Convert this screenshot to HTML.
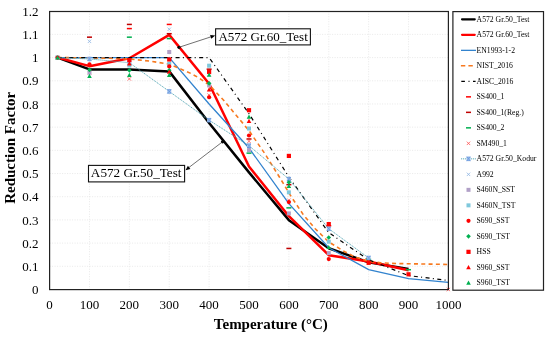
<!DOCTYPE html><html><head><meta charset="utf-8"><style>html,body{margin:0;padding:0;background:#fff;}svg{display:block;}text{font-family:"Liberation Serif","Times New Roman",serif;}</style></head><body>
<svg width="550" height="338" viewBox="0 0 550 338">
<rect width="550" height="338" fill="#fff"/>
<path d="M89.48,11.2V289.5M129.36,11.2V289.5M169.24,11.2V289.5M209.12,11.2V289.5M249.00,11.2V289.5M288.88,11.2V289.5M328.76,11.2V289.5M368.64,11.2V289.5M408.52,11.2V289.5M49.6,266.31H448.4M49.6,243.12H448.4M49.6,219.92H448.4M49.6,196.73H448.4M49.6,173.54H448.4M49.6,150.35H448.4M49.6,127.16H448.4M49.6,103.97H448.4M49.6,80.77H448.4M49.6,57.58H448.4M49.6,34.39H448.4" stroke="#E3E3E3" stroke-width="0.8" stroke-dasharray="1,1.5" fill="none"/>
<polyline points="57.58,57.58 89.48,69.41 129.36,69.41 169.24,71.38 209.12,122.98 249.00,172.38 288.88,220.16 328.76,248.22 368.64,262.37 408.52,269.09" fill="none" stroke="#000" stroke-width="2.5" stroke-linejoin="round"/>
<polyline points="57.58,57.58 89.48,66.16 129.36,58.28 169.24,34.86 209.12,83.79 249.00,166.58 288.88,216.21 328.76,255.18 368.64,261.44 408.52,270.25" fill="none" stroke="#FF0000" stroke-width="2.5" stroke-linejoin="round"/>
<polyline points="57.58,57.58 89.48,57.58 129.36,57.58 169.24,57.58 209.12,103.97 249.00,148.03 288.88,203.69 328.76,247.75 368.64,269.56 408.52,278.60 448.40,282.31" fill="none" stroke="#3283CE" stroke-width="1.3"/>
<polyline points="57.58,57.58 89.48,57.82 109.42,58.28 129.36,58.97 149.30,61.06 169.24,64.08 181.20,69.18 191.17,73.59 199.15,77.99 209.12,84.95 223.88,100.49 235.44,114.40 249.00,130.64 264.95,153.83 279.71,177.48 291.27,196.73 303.24,214.59 315.20,228.74 328.76,241.96 344.71,251.70 355.08,257.03 368.64,261.21 380.60,262.83 396.56,263.53 448.40,264.45" fill="none" stroke="#F7791F" stroke-width="1.6" stroke-dasharray="4,3.3"/>
<polyline points="57.58,57.58 89.48,57.58 129.36,57.58 169.24,57.58 209.12,57.58 249.00,113.71 288.88,177.02 328.76,232.68 368.64,259.81 408.52,275.58 448.40,280.46" fill="none" stroke="#000" stroke-width="1.2" stroke-dasharray="4,3.3,1,3.5"/>
<rect x="126.86" y="27.84" width="5" height="1.5" fill="#FF0000"/>
<rect x="166.74" y="23.67" width="5" height="1.5" fill="#FF0000"/>
<rect x="326.26" y="224.97" width="5" height="1.5" fill="#FF0000"/>
<rect x="86.98" y="36.42" width="5" height="1.5" fill="#C00000"/>
<rect x="126.86" y="23.67" width="5" height="1.5" fill="#C00000"/>
<rect x="166.74" y="32.95" width="5" height="1.5" fill="#C00000"/>
<rect x="206.62" y="68.43" width="5" height="1.5" fill="#C00000"/>
<rect x="246.50" y="138.24" width="5" height="1.5" fill="#C00000"/>
<rect x="286.38" y="183.92" width="5" height="1.5" fill="#C00000"/>
<rect x="286.38" y="247.70" width="5" height="1.5" fill="#C00000"/>
<rect x="126.86" y="36.42" width="5" height="1.5" fill="#00B050"/>
<rect x="166.74" y="37.82" width="5" height="1.5" fill="#00B050"/>
<rect x="246.50" y="152.38" width="5" height="1.5" fill="#00B050"/>
<rect x="286.38" y="207.12" width="5" height="1.5" fill="#00B050"/>
<rect x="366.14" y="258.60" width="5" height="1.5" fill="#00B050"/>
<rect x="406.02" y="268.97" width="5" height="1.5" fill="#00B050"/>
<path d="M87.78,70.96L91.18,74.36M87.78,74.36L91.18,70.96" stroke="#FF5050" stroke-width="0.8"/>
<path d="M127.66,77.22L131.06,80.62M127.66,80.62L131.06,77.22" stroke="#FF5050" stroke-width="0.8"/>
<path d="M207.42,93.45L210.82,96.85M207.42,96.85L210.82,93.45" stroke="#FF5050" stroke-width="0.8"/>
<path d="M247.30,139.61L250.70,143.01M247.30,143.01L250.70,139.61" stroke="#FF5050" stroke-width="0.8"/>
<path d="M287.18,198.51L290.58,201.91M287.18,201.91L290.58,198.51" stroke="#FF5050" stroke-width="0.8"/>
<path d="M446.70,287.80L450.10,291.20M446.70,291.20L450.10,287.80" stroke="#FF5050" stroke-width="0.8"/>
<polyline points="57.58,57.58 89.48,58.97 129.36,62.69 169.24,91.44 209.12,120.20 249.00,145.71 288.88,179.11 328.76,228.74 368.64,257.96" fill="none" stroke="#48A0B0" stroke-width="0.9" stroke-dasharray="1.2,0.8"/>
<rect x="87.48" y="56.97" width="4" height="4" fill="#A9C6EE"/><path d="M87.48,57.17H91.48M87.48,60.77H91.48M87.68,57.17L91.28,60.77M87.68,60.77L91.28,57.17" stroke="#4F86D6" stroke-width="0.6" fill="none"/>
<rect x="127.36" y="60.69" width="4" height="4" fill="#A9C6EE"/><path d="M127.36,60.89H131.36M127.36,64.49H131.36M127.56,60.89L131.16,64.49M127.56,64.49L131.16,60.89" stroke="#4F86D6" stroke-width="0.6" fill="none"/>
<rect x="167.24" y="89.44" width="4" height="4" fill="#A9C6EE"/><path d="M167.24,89.64H171.24M167.24,93.24H171.24M167.44,89.64L171.04,93.24M167.44,93.24L171.04,89.64" stroke="#4F86D6" stroke-width="0.6" fill="none"/>
<rect x="207.12" y="118.20" width="4" height="4" fill="#A9C6EE"/><path d="M207.12,118.40H211.12M207.12,122.00H211.12M207.32,118.40L210.92,122.00M207.32,122.00L210.92,118.40" stroke="#4F86D6" stroke-width="0.6" fill="none"/>
<rect x="247.00" y="143.71" width="4" height="4" fill="#A9C6EE"/><path d="M247.00,143.91H251.00M247.00,147.51H251.00M247.20,143.91L250.80,147.51M247.20,147.51L250.80,143.91" stroke="#4F86D6" stroke-width="0.6" fill="none"/>
<rect x="286.88" y="177.11" width="4" height="4" fill="#A9C6EE"/><path d="M286.88,177.31H290.88M286.88,180.91H290.88M287.08,177.31L290.68,180.91M287.08,180.91L290.68,177.31" stroke="#4F86D6" stroke-width="0.6" fill="none"/>
<rect x="326.76" y="226.74" width="4" height="4" fill="#A9C6EE"/><path d="M326.76,226.94H330.76M326.76,230.54H330.76M326.96,226.94L330.56,230.54M326.96,230.54L330.56,226.94" stroke="#4F86D6" stroke-width="0.6" fill="none"/>
<rect x="366.64" y="255.96" width="4" height="4" fill="#A9C6EE"/><path d="M366.64,256.16H370.64M366.64,259.76H370.64M366.84,256.16L370.44,259.76M366.84,259.76L370.44,256.16" stroke="#4F86D6" stroke-width="0.6" fill="none"/>
<path d="M87.78,39.65L91.18,43.05M87.78,43.05L91.18,39.65" stroke="#8DB4E2" stroke-width="0.8"/>
<path d="M167.54,27.59L170.94,30.99M167.54,30.99L170.94,27.59" stroke="#8DB4E2" stroke-width="0.8"/>
<rect x="55.58" y="55.58" width="4" height="4" fill="#B1A0C7"/>
<rect x="87.48" y="70.66" width="4" height="4" fill="#B1A0C7"/>
<rect x="167.24" y="50.02" width="4" height="4" fill="#B1A0C7"/>
<rect x="207.12" y="83.41" width="4" height="4" fill="#B1A0C7"/>
<rect x="247.00" y="148.12" width="4" height="4" fill="#B1A0C7"/>
<rect x="286.88" y="211.43" width="4" height="4" fill="#B1A0C7"/>
<rect x="326.76" y="251.09" width="4" height="4" fill="#B1A0C7"/>
<rect x="55.58" y="55.58" width="4" height="4" fill="#7FC8DC"/>
<rect x="127.36" y="63.47" width="4" height="4" fill="#7FC8DC"/>
<rect x="167.24" y="61.85" width="4" height="4" fill="#7FC8DC"/>
<rect x="207.12" y="63.70" width="4" height="4" fill="#7FC8DC"/>
<rect x="247.00" y="126.55" width="4" height="4" fill="#7FC8DC"/>
<rect x="286.88" y="190.33" width="4" height="4" fill="#7FC8DC"/>
<rect x="326.76" y="239.73" width="4" height="4" fill="#7FC8DC"/>
<circle cx="57.58" cy="57.58" r="2.1" fill="#FF0000"/>
<circle cx="89.48" cy="64.31" r="2.1" fill="#FF0000"/>
<circle cx="169.24" cy="66.40" r="2.1" fill="#FF0000"/>
<circle cx="209.12" cy="97.24" r="2.1" fill="#FF0000"/>
<circle cx="249.00" cy="135.51" r="2.1" fill="#FF0000"/>
<circle cx="288.88" cy="202.07" r="2.1" fill="#FF0000"/>
<circle cx="328.76" cy="259.12" r="2.1" fill="#FF0000"/>
<path d="M89.48,67.57L91.78,69.87L89.48,72.17L87.18,69.87Z" fill="#00B050"/>
<path d="M129.36,68.04L131.66,70.34L129.36,72.64L127.06,70.34Z" fill="#00B050"/>
<path d="M169.24,68.04L171.54,70.34L169.24,72.64L166.94,70.34Z" fill="#00B050"/>
<path d="M209.12,81.03L211.42,83.33L209.12,85.63L206.82,83.33Z" fill="#00B050"/>
<path d="M288.88,180.05L291.18,182.35L288.88,184.65L286.58,182.35Z" fill="#00B050"/>
<path d="M328.76,235.25L331.06,237.55L328.76,239.85L326.46,237.55Z" fill="#00B050"/>
<rect x="127.26" y="58.03" width="4.2" height="4.2" fill="#FF0000"/>
<rect x="167.14" y="57.34" width="4.2" height="4.2" fill="#FF0000"/>
<rect x="207.02" y="69.86" width="4.2" height="4.2" fill="#FF0000"/>
<rect x="246.90" y="108.13" width="4.2" height="4.2" fill="#FF0000"/>
<rect x="286.78" y="153.82" width="4.2" height="4.2" fill="#FF0000"/>
<rect x="326.66" y="222.00" width="4.2" height="4.2" fill="#FF0000"/>
<rect x="366.54" y="260.73" width="4.2" height="4.2" fill="#FF0000"/>
<rect x="406.42" y="272.21" width="4.2" height="4.2" fill="#FF0000"/>
<path d="M129.36,61.21L131.66,65.41L127.06,65.41Z" fill="#FF0000"/>
<path d="M169.24,69.56L171.54,73.76L166.94,73.76Z" fill="#FF0000"/>
<path d="M209.12,87.19L211.42,91.39L206.82,91.39Z" fill="#FF0000"/>
<path d="M249.00,118.73L251.30,122.93L246.70,122.93Z" fill="#FF0000"/>
<path d="M57.58,55.18L59.88,59.38L55.28,59.38Z" fill="#00B050"/>
<path d="M89.48,73.74L91.78,77.94L87.18,77.94Z" fill="#00B050"/>
<path d="M129.36,72.81L131.66,77.01L127.06,77.01Z" fill="#00B050"/>
<path d="M169.24,72.81L171.54,77.01L166.94,77.01Z" fill="#00B050"/>
<path d="M209.12,72.58L211.42,76.78L206.82,76.78Z" fill="#00B050"/>
<path d="M249.00,114.55L251.30,118.75L246.70,118.75Z" fill="#00B050"/>
<path d="M288.88,183.90L291.18,188.10L286.58,188.10Z" fill="#00B050"/>
<path d="M328.76,244.89L331.06,249.09L326.46,249.09Z" fill="#00B050"/>
<rect x="49.6" y="11.5" width="398.8" height="278.1" fill="none" stroke="#222" stroke-width="1.2"/>
<text x="38.6" y="294.10" font-size="13" text-anchor="end">0</text>
<text x="38.6" y="270.91" font-size="13" text-anchor="end">0.1</text>
<text x="38.6" y="247.72" font-size="13" text-anchor="end">0.2</text>
<text x="38.6" y="224.52" font-size="13" text-anchor="end">0.3</text>
<text x="38.6" y="201.33" font-size="13" text-anchor="end">0.4</text>
<text x="38.6" y="178.14" font-size="13" text-anchor="end">0.5</text>
<text x="38.6" y="154.95" font-size="13" text-anchor="end">0.6</text>
<text x="38.6" y="131.76" font-size="13" text-anchor="end">0.7</text>
<text x="38.6" y="108.57" font-size="13" text-anchor="end">0.8</text>
<text x="38.6" y="85.37" font-size="13" text-anchor="end">0.9</text>
<text x="38.6" y="62.18" font-size="13" text-anchor="end">1</text>
<text x="38.6" y="38.99" font-size="13" text-anchor="end">1.1</text>
<text x="38.6" y="15.80" font-size="13" text-anchor="end">1.2</text>
<text x="49.60" y="308.6" font-size="13" text-anchor="middle">0</text>
<text x="89.48" y="308.6" font-size="13" text-anchor="middle">100</text>
<text x="129.36" y="308.6" font-size="13" text-anchor="middle">200</text>
<text x="169.24" y="308.6" font-size="13" text-anchor="middle">300</text>
<text x="209.12" y="308.6" font-size="13" text-anchor="middle">400</text>
<text x="249.00" y="308.6" font-size="13" text-anchor="middle">500</text>
<text x="288.88" y="308.6" font-size="13" text-anchor="middle">600</text>
<text x="328.76" y="308.6" font-size="13" text-anchor="middle">700</text>
<text x="368.64" y="308.6" font-size="13" text-anchor="middle">800</text>
<text x="408.52" y="308.6" font-size="13" text-anchor="middle">900</text>
<text x="448.40" y="308.6" font-size="13" text-anchor="middle">1000</text>
<text x="270.8" y="329.3" font-size="15" font-weight="bold" text-anchor="middle">Temperature (°C)</text>
<text transform="translate(14.7,147.8) rotate(-90)" font-size="15" font-weight="bold" text-anchor="middle">Reduction Factor</text>
<rect x="215.6" y="28.8" width="94.8" height="16.1" fill="#fff" stroke="#111" stroke-width="1.1"/>
<text x="263.1" y="41.2" font-size="13" text-anchor="middle">A572 Gr.60_Test</text>
<rect x="88.5" y="165.4" width="96.1" height="16.5" fill="#fff" stroke="#111" stroke-width="1.1"/>
<text x="136.2" y="176.6" font-size="13.2" text-anchor="middle">A572 Gr.50_Test</text>
<circle cx="179" cy="47.3" r="1.6" fill="#000"/>
<path d="M179,47.3L212,36.5" stroke="#333" stroke-width="0.7"/>
<path d="M215.2,35.5L210.1,35.1L211.3,38.7Z" fill="#000"/>
<circle cx="222.5" cy="141.8" r="1.6" fill="#000"/>
<path d="M222.5,141.8L188.5,167.8" stroke="#333" stroke-width="0.7"/>
<path d="M185.5,170.2L187.9,165.8L190.4,168.9Z" fill="#000"/>
<rect x="452.9" y="11.6" width="90.6" height="278.6" fill="#fff" stroke="#222" stroke-width="1.2"/>
<path d="M462,19.35H474.8" stroke="#000" stroke-width="2.1" stroke-linecap="round"/>
<text x="476.6" y="21.95" font-size="7.7">A572 Gr.50_Test</text>
<path d="M462,34.85H474.8" stroke="#FF0000" stroke-width="2.1" stroke-linecap="round"/>
<text x="476.6" y="37.45" font-size="7.7">A572 Gr.60_Test</text>
<path d="M461,50.35H476" stroke="#3283CE" stroke-width="1.3"/>
<text x="476.6" y="52.95" font-size="7.7">EN1993-1-2</text>
<path d="M460.9,65.85H473" stroke="#F7791F" stroke-width="1.5" stroke-dasharray="4.4,3.1"/>
<text x="476.6" y="68.45" font-size="7.7">NIST_2016</text>
<path d="M461.3,81.35H475.6" stroke="#000" stroke-width="1.3" stroke-dasharray="3.6,3.6,1,3.5"/>
<text x="476.6" y="83.95" font-size="7.7">AISC_2016</text>
<rect x="466.00" y="96.10" width="5" height="1.5" fill="#FF0000"/>
<text x="476.6" y="99.45" font-size="7.7">SS400_1</text>
<rect x="466.00" y="111.60" width="5" height="1.5" fill="#C00000"/>
<text x="476.6" y="114.95" font-size="7.7">SS400_1(Reg.)</text>
<rect x="466.00" y="127.10" width="5" height="1.5" fill="#00B050"/>
<text x="476.6" y="130.45" font-size="7.7">SS400_2</text>
<path d="M466.80,141.65L470.20,145.05M466.80,145.05L470.20,141.65" stroke="#FF5050" stroke-width="0.8"/>
<text x="476.6" y="145.95" font-size="7.7">SM490_1</text>
<path d="M461,158.85H476" stroke="#48A0B0" stroke-width="0.9" stroke-dasharray="1.2,0.8"/>
<rect x="466.50" y="156.85" width="4" height="4" fill="#A9C6EE"/><path d="M466.50,157.05H470.50M466.50,160.65H470.50M466.70,157.05L470.30,160.65M466.70,160.65L470.30,157.05" stroke="#4F86D6" stroke-width="0.6" fill="none"/>
<text x="476.6" y="161.45" font-size="7.7">A572 Gr.50_Kodur</text>
<path d="M466.80,172.65L470.20,176.05M466.80,176.05L470.20,172.65" stroke="#8DB4E2" stroke-width="0.8"/>
<text x="476.6" y="176.95" font-size="7.7">A992</text>
<rect x="466.50" y="187.85" width="4" height="4" fill="#B1A0C7"/>
<text x="476.6" y="192.45" font-size="7.7">S460N_SST</text>
<rect x="466.50" y="203.35" width="4" height="4" fill="#7FC8DC"/>
<text x="476.6" y="207.95" font-size="7.7">S460N_TST</text>
<circle cx="468.50" cy="220.85" r="2.1" fill="#FF0000"/>
<text x="476.6" y="223.45" font-size="7.7">S690_SST</text>
<path d="M468.50,234.05L470.80,236.35L468.50,238.65L466.20,236.35Z" fill="#00B050"/>
<text x="476.6" y="238.95" font-size="7.7">S690_TST</text>
<rect x="466.40" y="249.75" width="4.2" height="4.2" fill="#FF0000"/>
<text x="476.6" y="254.45" font-size="7.7">HSS</text>
<path d="M468.50,264.95L470.80,269.15L466.20,269.15Z" fill="#FF0000"/>
<text x="476.6" y="269.95" font-size="7.7">S960_SST</text>
<path d="M468.50,280.45L470.80,284.65L466.20,284.65Z" fill="#00B050"/>
<text x="476.6" y="285.45" font-size="7.7">S960_TST</text>
</svg></body></html>
